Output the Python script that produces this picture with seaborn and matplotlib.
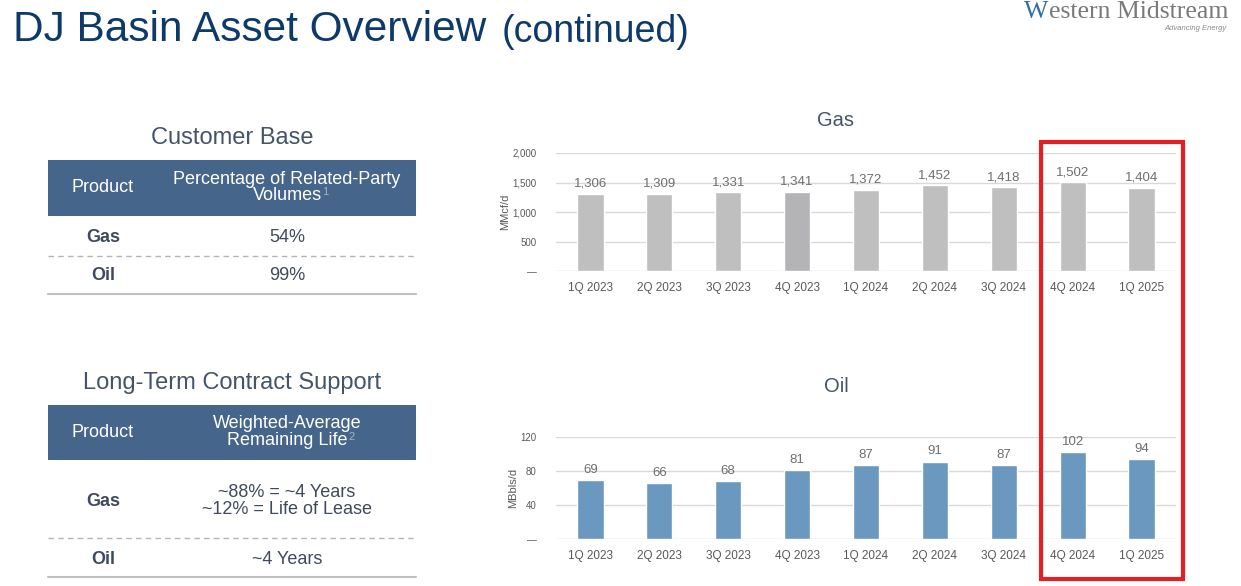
import matplotlib
matplotlib.use("Agg")
import matplotlib.pyplot as plt
from matplotlib.patches import Rectangle
import pandas as pd
import seaborn as sns

# chart data
quarters = ["1Q 2023", "2Q 2023", "3Q 2023", "4Q 2023", "1Q 2024",
            "2Q 2024", "3Q 2024", "4Q 2024", "1Q 2025"]
gas_volumes = [1306, 1309, 1331, 1341, 1372, 1452, 1418, 1502, 1404]
oil_volumes = [69, 66, 68, 81, 87, 91, 87, 102, 94]
gas_ticks = [0, 500, 1000, 1500, 2000]
oil_ticks = [0, 40, 80, 120]

# table text
customer_rows = [("Gas", "54%"), ("Oil", "99%")]
contract_rows = [("Gas", "~88% = ~4 Years\n~12% = Life of Lease"), ("Oil", "~4 Years")]

W, H = 1241, 586
sns.set_theme(style="white")
plt.rcParams["font.family"] = ["Liberation Sans", "DejaVu Sans"]

fig = plt.figure(figsize=(W / 100, H / 100), dpi=100)
fig.patch.set_facecolor("white")

tick_grey = "#595959"
label_grey = "#6e6e6e"
grid_grey = "#d9d9d9"
head_blue = "#46658b"
text_dark = "#3f4a5c"


def px_axes(left, top, right, bottom):
    return [left / W, 1 - bottom / H, (right - left) / W, (bottom - top) / H]


def bar_chart(rect, values, colors, ticks, ylabel, fmt):
    ax = fig.add_axes(px_axes(*rect))
    df = pd.DataFrame({"quarter": quarters, "value": values})
    sns.barplot(data=df, x="quarter", y="value", hue="quarter", palette=colors,
                width=0.38, legend=False, ax=ax, saturation=1)
    ax.set_ylim(0, ticks[-1])
    ax.set_yticks(ticks)
    ax.set_yticklabels(["—"] + [fmt(t) for t in ticks[1:]], fontsize=7, color=tick_grey)
    ax.tick_params(axis="x", labelsize=8.5, labelcolor=tick_grey, length=0, pad=8)
    ax.tick_params(axis="y", length=0, pad=14)
    ax.set_xlabel("")
    ax.set_ylabel(ylabel, fontsize=8, color=tick_grey, labelpad=2)
    ax.grid(axis="y", color=grid_grey, lw=1)
    ax.set_axisbelow(True)
    sns.despine(ax=ax, left=True, bottom=True)
    for c in ax.containers:
        ax.bar_label(c, labels=[fmt(v) for v in c.datavalues], padding=3,
                     fontsize=9.5, color=label_grey)
    return ax


gas_colors = ["#bfbfbf"] * len(quarters)
gas_colors[3] = "#b4b4b6"
oil_colors = ["#6b98bf"] * len(quarters)

bar_chart((556, 153, 1176, 271), gas_volumes, gas_colors, gas_ticks, "MMcf/d",
          lambda v: f"{int(v):,}")
bar_chart((556, 437, 1176, 539), oil_volumes, oil_colors, oil_ticks, "MBbls/d",
          lambda v: f"{int(v)}")

# overlay in pixel coordinates for titles, tables and the highlight box
ov = fig.add_axes([0, 0, 1, 1], zorder=5)
ov.set_xlim(0, W)
ov.set_ylim(H, 0)
ov.axis("off")
ov.patch.set_alpha(0)
rend = fig.canvas.get_renderer()

ov.text(836, 121, "Gas", fontsize=14.5, color="#44546a", ha="center", va="center")
ov.text(836, 387, "Oil", fontsize=14.5, color="#44546a", ha="center", va="center")

ov.text(13, 30, "DJ Basin Asset Overview", fontsize=30.5, color="#0d3a6b", va="center")
ov.text(502, 32, "(continued)", fontsize=27, color="#0d3a6b", va="center")

# logo
logo_rest = ov.text(1228, 12, "estern Midstream", fontsize=18.5, color="#7a7a7a",
                    ha="right", va="center", family="Liberation Serif")
bb = logo_rest.get_window_extent(rend)
ov.text(bb.x0, 12, "W", fontsize=18.5, color="#2f6ea8", ha="right", va="center",
        family="Liberation Serif")
ov.text(1227, 29, "Advancing Energy", fontsize=5.5, color="#8a8a8a", ha="right",
        va="center", style="italic")


def table(title, title_y, head_top, head_bot, head_lines, sup, rows, row_ys,
          dash_y, line_y):
    ov.text(232, title_y, title, fontsize=17, color="#44546a", ha="center", va="center")
    ov.add_patch(Rectangle((48, head_top), 368, head_bot - head_top, color=head_blue, lw=0))
    mid = (head_top + head_bot) / 2
    ov.text(103, mid, "Product", fontsize=13, color="white", ha="center", va="center")
    ov.text(287, mid - 9, head_lines[0], fontsize=13, color="white", ha="center",
            va="center")
    second = ov.text(287, mid + 8, head_lines[1], fontsize=13, color="white",
                     ha="center", va="center")
    x1 = second.get_window_extent(rend).x1
    ov.text(x1 + 1, mid + 4, sup, fontsize=8, color="#a8b0c0", ha="left", va="center")
    for (name, val), y in zip(rows, row_ys):
        ov.text(103, y, name, fontsize=13, color=text_dark, ha="center", va="center",
                fontweight="bold")
        ov.text(287, y, val, fontsize=13, color=text_dark, ha="center", va="center",
                linespacing=0.95)
    ov.plot([48, 416], [dash_y, dash_y], color="#b5b5b5", lw=1, ls=(0, (4, 3)))
    ov.plot([48, 416], [line_y, line_y], color="#bfbfbf", lw=1.5)


table("Customer Base", 138, 160, 216, ["Percentage of Related-Party", "Volumes"], "1",
      customer_rows, [237, 275], 256, 294)
table("Long-Term Contract Support", 383, 405, 460, ["Weighted-Average", "Remaining Life"],
      "2", contract_rows, [501, 559], 538, 577)

ov.add_patch(Rectangle((1041, 142), 142, 437, fill=False, edgecolor="#e31e24", lw=3))

fig.savefig("out.png", dpi=100)
